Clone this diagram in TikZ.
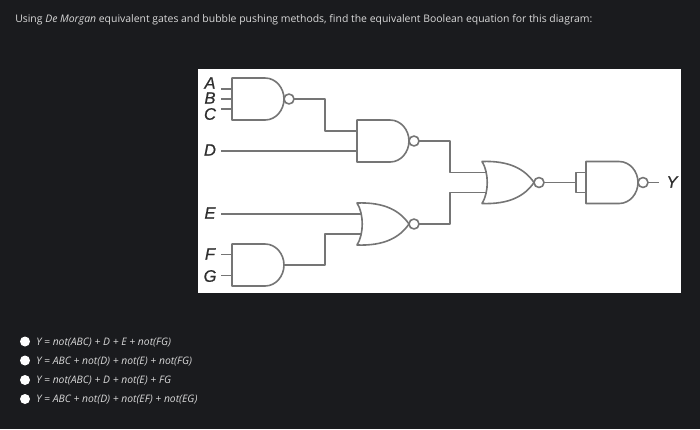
\documentclass[tikz,border=0pt]{standalone}
\usepackage{fontspec}
\setmainfont{Open Sans}
\newfontfamily\labelfont[ItalicFeatures={FakeBold=0.5}]{Liberation Sans}
\definecolor{pagebg}{HTML}{1A1B1E}
\definecolor{wirecol}{HTML}{757575}
\definecolor{textcol}{HTML}{DADADA}
\definecolor{labelcol}{HTML}{2E2E2E}
\tikzset{
  x=0.75pt, y=-0.75pt,
  wire/.style={draw=wirecol, line width=1.2pt, line join=round},
  heading/.style={text=textcol, anchor=base west, inner sep=0pt, font=\fontsize{7.82pt}{10pt}\selectfont},
  choice/.style={text=textcol, anchor=base west, inner sep=0pt, font=\fontsize{7.75pt}{9pt}\selectfont\itshape},
  radio/.style={circle, fill=white, minimum size=7.5pt, inner sep=0pt},
  pinlabel/.style={text=labelcol, inner sep=0pt, font=\labelfont\fontsize{12.5pt}{13pt}\selectfont\itshape},
  pics/nandgate/.style={code={
    \draw[wire] (0,-21) -- (33,-21) .. controls (44,-21) and (52,-11) .. (52,0)
      .. controls (52,11) and (44,21) .. (33,21) -- (0,21) -- cycle;
    \draw[wire] (57,0) circle[radius=5];
    \coordinate (-up) at (0,-10);
    \coordinate (-mid) at (0,0);
    \coordinate (-down) at (0,10);
    \coordinate (-out) at (62,0);
  }},
  pics/andgate/.style={code={
    \draw[wire] (0,-21) -- (33,-21) .. controls (44,-21) and (52,-11) .. (52,0)
      .. controls (52,11) and (44,21) .. (33,21) -- (0,21) -- cycle;
    \coordinate (-up) at (0,-10.5);
    \coordinate (-down) at (0,10.5);
    \coordinate (-out) at (52,0);
  }},
  pics/norgate/.style={code={
    \draw[wire] (0,-21) .. controls (28,-22) and (43,-13) .. (52,0)
      .. controls (43,13) and (28,22) .. (0,21)
      .. controls (7,10) and (7,-10) .. (0,-21) -- cycle;
    \draw[wire] (57,0) circle[radius=5];
    \coordinate (-up) at (4.5,-10);
    \coordinate (-down) at (4.5,10);
    \coordinate (-out) at (62,0);
  }},
}
\begin{document}
\begin{tikzpicture}
\useasboundingbox (0,0) rectangle (700,429);
\fill[pagebg] (0,0) rectangle (700,429);
\fill[white] (198,68.5) rectangle (681,292.5);

\node[heading] (question) at (15,22) {Using \textit{De Morgan} equivalent gates and bubble pushing methods, find the equivalent Boolean equation for this diagram:};

\pic (g1) at (232,99) {nandgate};
\pic (g2) at (357,141) {nandgate};
\pic (g3) at (357,224) {norgate};
\pic (g4) at (232,265) {andgate};
\pic (g5) at (482,182.5) {norgate};
\pic (g6) at (586,182.5) {nandgate};

\node[pinlabel] (A) at (210,83) {A};
\node[pinlabel] (B) at (210,98) {B};
\node[pinlabel] (C) at (210,114) {C};
\node[pinlabel] (D) at (210,150) {D};
\node[pinlabel] (E) at (210,213) {E};
\node[pinlabel] (F) at (210,254) {F};
\node[pinlabel] (G) at (210,276) {G};
\node[pinlabel] (Y) at (672,182) {Y};

\coordinate (pa) at (221,89);
\coordinate (pb) at (221,99);
\coordinate (pc) at (221,109);
\coordinate (pd) at (221,151);
\coordinate (pe) at (221,214);
\coordinate (pf) at (221,254.5);
\coordinate (pg) at (221,275.5);
\coordinate (py) at (659,182.5);
\coordinate (join) at (575.7,182.5);
\coordinate (bus1) at (325,0);
\coordinate (bus2) at (450,0);

\draw[wire] (pa) -- (g1-up);
\draw[wire] (pb) -- (g1-mid);
\draw[wire] (pc) -- (g1-down);
\draw[wire] (pd) -- (g2-down);
\draw[wire] (pe) -- (g3-up);
\draw[wire] (pf) -- (g4-up);
\draw[wire] (pg) -- (g4-down);
\draw[wire] (g1-out) -| (bus1 |- g2-up) -- (g2-up);
\draw[wire] (g4-out) -| (bus1 |- g3-down) -- (g3-down);
\draw[wire] (g2-out) -| (bus2 |- g5-up) -- (g5-up);
\draw[wire] (g3-out) -| (bus2 |- g5-down) -- (g5-down);
\draw[wire] (g5-out) -- (join);
\draw[wire] (g6-up) -| (join) |- (g6-down);
\draw[wire] (g6-out) -- (py);

\node[radio] (r1) at (25,341.5) {};
\node[radio] (r2) at (25,360.5) {};
\node[radio] (r3) at (25,380) {};
\node[radio] (r4) at (25,399) {};
\node[choice] (c1) at (36,345) {Y = not(ABC) + D + E + not(FG)};
\node[choice] (c2) at (36,364) {Y = ABC + not(D) + not(E) + not(FG)};
\node[choice] (c3) at (36,383.5) {Y = not(ABC) + D + not(E) + FG};
\node[choice] (c4) at (36,402.5) {Y = ABC + not(D) + not(EF) + not(EG)};
\end{tikzpicture}
\end{document}
